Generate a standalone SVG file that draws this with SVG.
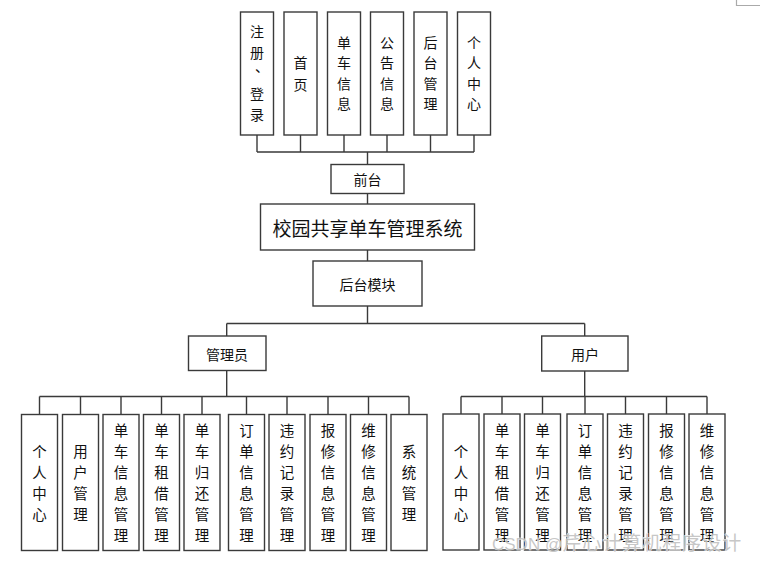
<svg xmlns="http://www.w3.org/2000/svg" width="760" height="562" viewBox="0 0 760 562">
<style>
.box{fill:#fff;stroke:#3a3a3a;stroke-width:1.4}
.ln{fill:none;stroke:#3a3a3a;stroke-width:1.4}
.t{font-family:"Noto Sans CJK SC","Noto Sans CJK TC",sans-serif;fill:#111;text-anchor:middle;dominant-baseline:central}
.t15{font-size:14px}
.t16{font-size:14.5px}
.t14{font-size:14px}
.wm{font-family:"Liberation Sans","Noto Sans CJK SC",sans-serif;fill:#bdbdbd;fill-opacity:0.85;stroke:#ffffff;stroke-width:0.6;paint-order:stroke}
</style>
<rect width="760" height="562" fill="#fff"/>
<path d="M736.5 0 V5.5 H760" fill="none" stroke="#aaa" stroke-width="1.2"/>

<g id="connectors">
  <path class="ln" d="M257 135 V152 M300.5 135 V152 M344 135 V152 M387 135 V152 M430.5 135 V152 M474 135 V152 M257 152 H474 M367.5 152 V164.5"/>
  <path class="ln" d="M367.5 193.5 V204 M367.5 250 V261 M367.5 306 V323.5 M226.7 323.5 H584.7 M226.7 323.5 V336 M584.7 323.5 V336"/>
  <path class="ln" d="M226.7 370.5 V396.5 M39.5 396.5 H409 M39.5 396.5 V414.5 M80.5 396.5 V414.5 M121 396.5 V414.5 M161.5 396.5 V414.5 M202 396.5 V414.5 M246.5 396.5 V414.5 M287 396.5 V414.5 M328 396.5 V414.5 M368.5 396.5 V414.5 M409 396.5 V414.5"/>
  <path class="ln" d="M584.7 371 V396.5 M461 396.5 H707 M461 396.5 V414 M502 396.5 V414 M542.5 396.5 V414 M585 396.5 V414 M625.5 396.5 V414 M666.5 396.5 V414 M707 396.5 V414"/>
</g>

<g id="n-zhuce">
  <rect class="box" x="240.5" y="12" width="33" height="123"/>
  <text class="t t15"><tspan x="257" y="31">注</tspan><tspan x="257" y="51.5">册</tspan><tspan x="262" y="66">、</tspan><tspan x="257" y="93">登</tspan><tspan x="257" y="114">录</tspan></text>
</g>
<g id="n-shouye">
  <rect class="box" x="284" y="12" width="33" height="123"/>
  <text class="t t15"><tspan x="300.5" y="61.5">首</tspan><tspan x="300.5" y="83.5">页</tspan></text>
</g>
<g id="n-danche">
  <rect class="box" x="327.5" y="12" width="33" height="123"/>
  <text class="t t15"><tspan x="344" y="41.5">单</tspan><tspan x="344" y="62">车</tspan><tspan x="344" y="82.5">信</tspan><tspan x="344" y="103">息</tspan></text>
</g>
<g id="n-gonggao">
  <rect class="box" x="370.5" y="12" width="33" height="123"/>
  <text class="t t15"><tspan x="387" y="41.5">公</tspan><tspan x="387" y="62">告</tspan><tspan x="387" y="82.5">信</tspan><tspan x="387" y="103">息</tspan></text>
</g>
<g id="n-houtai">
  <rect class="box" x="414" y="12" width="33" height="123"/>
  <text class="t t15"><tspan x="430.5" y="41.5">后</tspan><tspan x="430.5" y="62">台</tspan><tspan x="430.5" y="82.5">管</tspan><tspan x="430.5" y="103">理</tspan></text>
</g>
<g id="n-geren-top">
  <rect class="box" x="457.5" y="12" width="33" height="123"/>
  <text class="t t15"><tspan x="474" y="41.5">个</tspan><tspan x="474" y="62">人</tspan><tspan x="474" y="82.5">中</tspan><tspan x="474" y="103">心</tspan></text>
</g>

<g id="n-qiantai">
  <rect class="box" x="331" y="164.5" width="73" height="29"/>
  <text class="t t14" x="367.5" y="179">前台</text>
</g>
<g id="n-system">
  <rect class="box" x="260.5" y="204" width="214" height="46"/>
  <text class="t" style="font-size:19px" x="367.5" y="227">校园共享单车管理系统</text>
</g>
<g id="n-houtaimokuai">
  <rect class="box" x="313" y="261" width="109" height="45"/>
  <text class="t t14" x="367.5" y="283.5">后台模块</text>
</g>
<g id="n-admin">
  <rect class="box" x="188.5" y="336" width="77.5" height="34.5"/>
  <text class="t t14" x="227" y="353.5">管理员</text>
</g>
<g id="n-user">
  <rect class="box" x="541.7" y="336" width="86.3" height="35"/>
  <text class="t t14" x="585" y="353.5">用户</text>
</g>

<g id="a1"><rect class="box" x="21.5" y="414.5" width="36" height="136"/>
<text class="t t16"><tspan x="39.5" y="450">个</tspan><tspan x="39.5" y="471">人</tspan><tspan x="39.5" y="492">中</tspan><tspan x="39.5" y="513">心</tspan></text></g>
<g id="a2"><rect class="box" x="62.5" y="414.5" width="36" height="136"/>
<text class="t t16"><tspan x="80.5" y="450">用</tspan><tspan x="80.5" y="471">户</tspan><tspan x="80.5" y="492">管</tspan><tspan x="80.5" y="513">理</tspan></text></g>
<g id="a3"><rect class="box" x="103" y="414.5" width="36" height="136"/>
<text class="t t16"><tspan x="121" y="429">单</tspan><tspan x="121" y="450">车</tspan><tspan x="121" y="471">信</tspan><tspan x="121" y="492">息</tspan><tspan x="121" y="513">管</tspan><tspan x="121" y="534">理</tspan></text></g>
<g id="a4"><rect class="box" x="143.5" y="414.5" width="36" height="136"/>
<text class="t t16"><tspan x="161.5" y="429">单</tspan><tspan x="161.5" y="450">车</tspan><tspan x="161.5" y="471">租</tspan><tspan x="161.5" y="492">借</tspan><tspan x="161.5" y="513">管</tspan><tspan x="161.5" y="534">理</tspan></text></g>
<g id="a5"><rect class="box" x="184" y="414.5" width="36" height="136"/>
<text class="t t16"><tspan x="202" y="429">单</tspan><tspan x="202" y="450">车</tspan><tspan x="202" y="471">归</tspan><tspan x="202" y="492">还</tspan><tspan x="202" y="513">管</tspan><tspan x="202" y="534">理</tspan></text></g>
<g id="a6"><rect class="box" x="228.5" y="414.5" width="36" height="136"/>
<text class="t t16"><tspan x="246.5" y="429">订</tspan><tspan x="246.5" y="450">单</tspan><tspan x="246.5" y="471">信</tspan><tspan x="246.5" y="492">息</tspan><tspan x="246.5" y="513">管</tspan><tspan x="246.5" y="534">理</tspan></text></g>
<g id="a7"><rect class="box" x="269" y="414.5" width="36" height="136"/>
<text class="t t16"><tspan x="287" y="429">违</tspan><tspan x="287" y="450">约</tspan><tspan x="287" y="471">记</tspan><tspan x="287" y="492">录</tspan><tspan x="287" y="513">管</tspan><tspan x="287" y="534">理</tspan></text></g>
<g id="a8"><rect class="box" x="310" y="414.5" width="36" height="136"/>
<text class="t t16"><tspan x="328" y="429">报</tspan><tspan x="328" y="450">修</tspan><tspan x="328" y="471">信</tspan><tspan x="328" y="492">息</tspan><tspan x="328" y="513">管</tspan><tspan x="328" y="534">理</tspan></text></g>
<g id="a9"><rect class="box" x="350.5" y="414.5" width="36" height="136"/>
<text class="t t16"><tspan x="368.5" y="429">维</tspan><tspan x="368.5" y="450">修</tspan><tspan x="368.5" y="471">信</tspan><tspan x="368.5" y="492">息</tspan><tspan x="368.5" y="513">管</tspan><tspan x="368.5" y="534">理</tspan></text></g>
<g id="a10"><rect class="box" x="391" y="414.5" width="36" height="136"/>
<text class="t t16"><tspan x="409" y="450">系</tspan><tspan x="409" y="471">统</tspan><tspan x="409" y="492">管</tspan><tspan x="409" y="513">理</tspan></text></g>

<g id="u1"><rect class="box" x="443" y="414" width="36" height="136"/>
<text class="t t16"><tspan x="461" y="450">个</tspan><tspan x="461" y="471">人</tspan><tspan x="461" y="492">中</tspan><tspan x="461" y="513">心</tspan></text></g>
<g id="u2"><rect class="box" x="484" y="414" width="36" height="136"/>
<text class="t t16"><tspan x="502" y="429">单</tspan><tspan x="502" y="450">车</tspan><tspan x="502" y="471">租</tspan><tspan x="502" y="492">借</tspan><tspan x="502" y="513">管</tspan><tspan x="502" y="534">理</tspan></text></g>
<g id="u3"><rect class="box" x="524.5" y="414" width="36" height="136"/>
<text class="t t16"><tspan x="542.5" y="429">单</tspan><tspan x="542.5" y="450">车</tspan><tspan x="542.5" y="471">归</tspan><tspan x="542.5" y="492">还</tspan><tspan x="542.5" y="513">管</tspan><tspan x="542.5" y="534">理</tspan></text></g>
<g id="u4"><rect class="box" x="567" y="414" width="36" height="136"/>
<text class="t t16"><tspan x="585" y="429">订</tspan><tspan x="585" y="450">单</tspan><tspan x="585" y="471">信</tspan><tspan x="585" y="492">息</tspan><tspan x="585" y="513">管</tspan><tspan x="585" y="534">理</tspan></text></g>
<g id="u5"><rect class="box" x="607.5" y="414" width="36" height="136"/>
<text class="t t16"><tspan x="625.5" y="429">违</tspan><tspan x="625.5" y="450">约</tspan><tspan x="625.5" y="471">记</tspan><tspan x="625.5" y="492">录</tspan><tspan x="625.5" y="513">管</tspan><tspan x="625.5" y="534">理</tspan></text></g>
<g id="u6"><rect class="box" x="648.5" y="414" width="36" height="136"/>
<text class="t t16"><tspan x="666.5" y="429">报</tspan><tspan x="666.5" y="450">修</tspan><tspan x="666.5" y="471">信</tspan><tspan x="666.5" y="492">息</tspan><tspan x="666.5" y="513">管</tspan><tspan x="666.5" y="534">理</tspan></text></g>
<g id="u7"><rect class="box" x="689" y="414" width="36" height="136"/>
<text class="t t16"><tspan x="707" y="429">维</tspan><tspan x="707" y="450">修</tspan><tspan x="707" y="471">信</tspan><tspan x="707" y="492">息</tspan><tspan x="707" y="513">管</tspan><tspan x="707" y="534">理</tspan></text></g>

<text class="wm" x="492" y="550"><tspan style="font-size:17px">CSDN @</tspan><tspan style="font-size:19px;letter-spacing:1px">芹心计算机程序设计</tspan></text>
</svg>
